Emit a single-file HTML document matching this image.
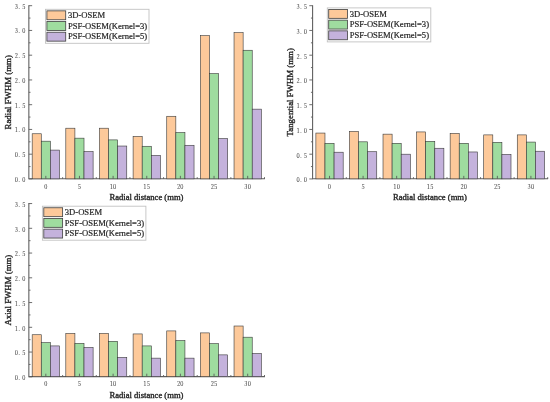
<!DOCTYPE html>
<html><head><meta charset="utf-8"><title>FWHM charts</title>
<style>
html,body{margin:0;padding:0;background:#fff}
body{width:550px;height:402px;overflow:hidden}
svg{display:block}
.tk text{font-family:"Noto Serif CJK SC","Liberation Serif",serif;font-size:6.8px;fill:#3c3c3c;stroke:#3c3c3c;stroke-width:0.06px}
text.lb{font-family:"Liberation Serif",serif;font-size:8.6px;fill:#262626;stroke:#262626;stroke-width:0.2px}
text.yt{font-size:8.8px;stroke-width:0.36px}
text.xt{stroke-width:0.36px}
</style></head><body>
<svg width="550" height="402" viewBox="0 0 550 402">
<rect width="550" height="402" fill="#fff"/>
<path d="M28.85 5.20V178.75H264.90" fill="none" stroke="#5e5e5e" stroke-width="1.08" stroke-linejoin="miter"/>
<rect x="32.17" y="133.76" width="9.10" height="45.09" fill="#fdc99a" stroke="#383838" stroke-width="0.6"/>
<rect x="41.27" y="141.18" width="9.10" height="37.67" fill="#9fdc9f" stroke="#383838" stroke-width="0.6"/>
<rect x="50.37" y="150.09" width="9.10" height="28.76" fill="#c4b2dc" stroke="#383838" stroke-width="0.6"/>
<rect x="65.81" y="128.21" width="9.10" height="50.64" fill="#fdc99a" stroke="#383838" stroke-width="0.6"/>
<rect x="74.91" y="138.16" width="9.10" height="40.69" fill="#9fdc9f" stroke="#383838" stroke-width="0.6"/>
<rect x="84.01" y="151.63" width="9.10" height="27.22" fill="#c4b2dc" stroke="#383838" stroke-width="0.6"/>
<rect x="99.46" y="128.21" width="9.10" height="50.64" fill="#fdc99a" stroke="#383838" stroke-width="0.6"/>
<rect x="108.56" y="139.89" width="9.10" height="38.96" fill="#9fdc9f" stroke="#383838" stroke-width="0.6"/>
<rect x="117.66" y="146.03" width="9.10" height="32.82" fill="#c4b2dc" stroke="#383838" stroke-width="0.6"/>
<rect x="133.10" y="136.38" width="9.10" height="42.47" fill="#fdc99a" stroke="#383838" stroke-width="0.6"/>
<rect x="142.20" y="146.28" width="9.10" height="32.57" fill="#9fdc9f" stroke="#383838" stroke-width="0.6"/>
<rect x="151.30" y="155.44" width="9.10" height="23.41" fill="#c4b2dc" stroke="#383838" stroke-width="0.6"/>
<rect x="166.74" y="116.28" width="9.10" height="62.57" fill="#fdc99a" stroke="#383838" stroke-width="0.6"/>
<rect x="175.84" y="132.57" width="9.10" height="46.28" fill="#9fdc9f" stroke="#383838" stroke-width="0.6"/>
<rect x="184.94" y="145.29" width="9.10" height="33.56" fill="#c4b2dc" stroke="#383838" stroke-width="0.6"/>
<rect x="200.39" y="35.65" width="9.10" height="143.20" fill="#fdc99a" stroke="#383838" stroke-width="0.6"/>
<rect x="209.49" y="73.61" width="9.10" height="105.24" fill="#9fdc9f" stroke="#383838" stroke-width="0.6"/>
<rect x="218.59" y="138.56" width="9.10" height="40.29" fill="#c4b2dc" stroke="#383838" stroke-width="0.6"/>
<rect x="234.03" y="32.68" width="9.10" height="146.17" fill="#fdc99a" stroke="#383838" stroke-width="0.6"/>
<rect x="243.13" y="50.25" width="9.10" height="128.60" fill="#9fdc9f" stroke="#383838" stroke-width="0.6"/>
<rect x="252.23" y="109.15" width="9.10" height="69.70" fill="#c4b2dc" stroke="#383838" stroke-width="0.6"/>
<path d="M28.85 178.95h3.30M28.85 166.57h1.65M28.85 154.20h3.30M28.85 141.82h1.65M28.85 129.45h3.30M28.85 117.07h1.65M28.85 104.70h3.30M28.85 92.32h1.65M28.85 79.95h3.30M28.85 67.57h1.65M28.85 55.20h3.30M28.85 42.82h1.65M28.85 30.45h3.30M28.85 18.07h1.65M28.85 5.70h3.30M45.82 178.95v-3.1M62.64 178.95v-1.8M79.46 178.95v-3.1M96.29 178.95v-1.8M113.11 178.95v-3.1M129.93 178.95v-1.8M146.75 178.95v-3.1M163.57 178.95v-1.8M180.39 178.95v-3.1M197.21 178.95v-1.8M214.04 178.95v-3.1M230.86 178.95v-1.8M247.68 178.95v-3.1M264.50 178.95v-1.8" fill="none" stroke="#5e5e5e" stroke-width="0.9"/>
<g class="tk" text-anchor="middle">
<text transform="translate(0 181.85) scale(0.84 1)" x="19.46 22.92 28.27">0.0</text>
<text transform="translate(0 157.10) scale(0.84 1)" x="19.46 22.92 28.27">0.5</text>
<text transform="translate(0 132.35) scale(0.84 1)" x="19.46 22.92 28.27">1.0</text>
<text transform="translate(0 107.60) scale(0.84 1)" x="19.46 22.92 28.27">1.5</text>
<text transform="translate(0 82.85) scale(0.84 1)" x="19.46 22.92 28.27">2.0</text>
<text transform="translate(0 58.10) scale(0.84 1)" x="19.46 22.92 28.27">2.5</text>
<text transform="translate(0 33.35) scale(0.84 1)" x="19.46 22.92 28.27">3.0</text>
<text transform="translate(0 8.60) scale(0.84 1)" x="19.46 22.92 28.27">3.5</text>
<text transform="translate(0 188.55) scale(0.84 1)" x="54.43">0</text>
<text transform="translate(0 188.55) scale(0.84 1)" x="94.48">5</text>
<text transform="translate(0 188.55) scale(0.84 1)" x="132.54 136.53">10</text>
<text transform="translate(0 188.55) scale(0.84 1)" x="172.59 176.58">15</text>
<text transform="translate(0 188.55) scale(0.84 1)" x="212.64 216.63">20</text>
<text transform="translate(0 188.55) scale(0.84 1)" x="252.69 256.68">25</text>
<text transform="translate(0 188.55) scale(0.84 1)" x="292.74 296.73">30</text>
</g>
<text class="lb xt" text-anchor="middle" x="146.45" y="199.80">Radial distance (mm)</text>
<text class="lb yt" text-anchor="middle" transform="translate(11.15 92.32) rotate(-90)">Radial FWHM (mm)</text>
<rect x="45.50" y="9.30" width="103.50" height="34.00" fill="#fff" stroke="#c2c2c2" stroke-width="0.9"/>
<rect x="46.90" y="10.85" width="18.8" height="8.9" fill="#fdc99a" stroke="#484848" stroke-width="0.85"/>
<text class="lb" x="67.90" y="18.20">3D-OSEM</text>
<rect x="46.90" y="21.55" width="18.8" height="8.9" fill="#9fdc9f" stroke="#484848" stroke-width="0.85"/>
<text class="lb" x="67.90" y="28.70">PSF-OSEM(Kernel=3)</text>
<rect x="46.90" y="32.25" width="18.8" height="8.9" fill="#c4b2dc" stroke="#484848" stroke-width="0.85"/>
<text class="lb" x="67.90" y="39.20">PSF-OSEM(Kernel=5)</text>
<path d="M312.60 5.20V178.75H548.10" fill="none" stroke="#5e5e5e" stroke-width="1.08" stroke-linejoin="miter"/>
<rect x="315.88" y="133.06" width="9.10" height="45.79" fill="#fdc99a" stroke="#383838" stroke-width="0.6"/>
<rect x="324.98" y="143.31" width="9.10" height="35.54" fill="#9fdc9f" stroke="#383838" stroke-width="0.6"/>
<rect x="334.08" y="152.22" width="9.10" height="26.63" fill="#c4b2dc" stroke="#383838" stroke-width="0.6"/>
<rect x="349.45" y="131.43" width="9.10" height="47.42" fill="#fdc99a" stroke="#383838" stroke-width="0.6"/>
<rect x="358.55" y="141.82" width="9.10" height="37.02" fill="#9fdc9f" stroke="#383838" stroke-width="0.6"/>
<rect x="367.65" y="151.72" width="9.10" height="27.12" fill="#c4b2dc" stroke="#383838" stroke-width="0.6"/>
<rect x="383.01" y="134.15" width="9.10" height="44.70" fill="#fdc99a" stroke="#383838" stroke-width="0.6"/>
<rect x="392.11" y="143.31" width="9.10" height="35.54" fill="#9fdc9f" stroke="#383838" stroke-width="0.6"/>
<rect x="401.21" y="154.20" width="9.10" height="24.65" fill="#c4b2dc" stroke="#383838" stroke-width="0.6"/>
<rect x="416.58" y="131.93" width="9.10" height="46.92" fill="#fdc99a" stroke="#383838" stroke-width="0.6"/>
<rect x="425.68" y="141.33" width="9.10" height="37.52" fill="#9fdc9f" stroke="#383838" stroke-width="0.6"/>
<rect x="434.78" y="148.26" width="9.10" height="30.59" fill="#c4b2dc" stroke="#383838" stroke-width="0.6"/>
<rect x="450.14" y="133.41" width="9.10" height="45.44" fill="#fdc99a" stroke="#383838" stroke-width="0.6"/>
<rect x="459.24" y="143.31" width="9.10" height="35.54" fill="#9fdc9f" stroke="#383838" stroke-width="0.6"/>
<rect x="468.34" y="151.97" width="9.10" height="26.88" fill="#c4b2dc" stroke="#383838" stroke-width="0.6"/>
<rect x="483.70" y="134.89" width="9.10" height="43.95" fill="#fdc99a" stroke="#383838" stroke-width="0.6"/>
<rect x="492.80" y="142.32" width="9.10" height="36.53" fill="#9fdc9f" stroke="#383838" stroke-width="0.6"/>
<rect x="501.90" y="154.45" width="9.10" height="24.40" fill="#c4b2dc" stroke="#383838" stroke-width="0.6"/>
<rect x="517.27" y="134.89" width="9.10" height="43.95" fill="#fdc99a" stroke="#383838" stroke-width="0.6"/>
<rect x="526.37" y="142.07" width="9.10" height="36.78" fill="#9fdc9f" stroke="#383838" stroke-width="0.6"/>
<rect x="535.47" y="151.23" width="9.10" height="27.62" fill="#c4b2dc" stroke="#383838" stroke-width="0.6"/>
<path d="M312.60 178.95h-3.30M312.60 166.57h-1.65M312.60 154.20h-3.30M312.60 141.82h-1.65M312.60 129.45h-3.30M312.60 117.07h-1.65M312.60 104.70h-3.30M312.60 92.32h-1.65M312.60 79.95h-3.30M312.60 67.57h-1.65M312.60 55.20h-3.30M312.60 42.82h-1.65M312.60 30.45h-3.30M312.60 18.07h-1.65M312.60 5.70h-3.30M329.53 178.95v-3.1M346.31 178.95v-1.8M363.10 178.95v-3.1M379.88 178.95v-1.8M396.66 178.95v-3.1M413.44 178.95v-1.8M430.23 178.95v-3.1M447.01 178.95v-1.8M463.79 178.95v-3.1M480.57 178.95v-1.8M497.35 178.95v-3.1M514.14 178.95v-1.8M530.92 178.95v-3.1M547.70 178.95v-1.8" fill="none" stroke="#5e5e5e" stroke-width="0.9"/>
<g class="tk" text-anchor="middle">
<text transform="translate(0 182.25) scale(0.84 1)" x="354.82 358.27 363.63">0.0</text>
<text transform="translate(0 157.50) scale(0.84 1)" x="354.82 358.27 363.63">0.5</text>
<text transform="translate(0 132.75) scale(0.84 1)" x="354.82 358.27 363.63">1.0</text>
<text transform="translate(0 108.00) scale(0.84 1)" x="354.82 358.27 363.63">1.5</text>
<text transform="translate(0 83.25) scale(0.84 1)" x="354.82 358.27 363.63">2.0</text>
<text transform="translate(0 58.50) scale(0.84 1)" x="354.82 358.27 363.63">2.5</text>
<text transform="translate(0 33.75) scale(0.84 1)" x="354.82 358.27 363.63">3.0</text>
<text transform="translate(0 9.00) scale(0.84 1)" x="354.82 358.27 363.63">3.5</text>
<text transform="translate(0 188.55) scale(0.84 1)" x="392.18">0</text>
<text transform="translate(0 188.55) scale(0.84 1)" x="432.14">5</text>
<text transform="translate(0 188.55) scale(0.84 1)" x="470.10 474.09">10</text>
<text transform="translate(0 188.55) scale(0.84 1)" x="510.06 514.05">15</text>
<text transform="translate(0 188.55) scale(0.84 1)" x="550.02 554.01">20</text>
<text transform="translate(0 188.55) scale(0.84 1)" x="589.97 593.96">25</text>
<text transform="translate(0 188.55) scale(0.84 1)" x="629.93 633.92">30</text>
</g>
<text class="lb xt" text-anchor="middle" x="429.93" y="199.80">Radial distance (mm)</text>
<text class="lb yt" text-anchor="middle" transform="translate(292.90 92.32) rotate(-90)">Tangential FWHM (mm)</text>
<rect x="327.30" y="7.90" width="103.50" height="34.00" fill="#fff" stroke="#c2c2c2" stroke-width="0.9"/>
<rect x="328.70" y="9.45" width="18.8" height="8.9" fill="#fdc99a" stroke="#484848" stroke-width="0.85"/>
<text class="lb" x="349.70" y="16.80">3D-OSEM</text>
<rect x="328.70" y="20.15" width="18.8" height="8.9" fill="#9fdc9f" stroke="#484848" stroke-width="0.85"/>
<text class="lb" x="349.70" y="27.30">PSF-OSEM(Kernel=3)</text>
<rect x="328.70" y="30.85" width="18.8" height="8.9" fill="#c4b2dc" stroke="#484848" stroke-width="0.85"/>
<text class="lb" x="349.70" y="37.80">PSF-OSEM(Kernel=5)</text>
<path d="M28.85 203.05V376.60H264.90" fill="none" stroke="#5e5e5e" stroke-width="1.08" stroke-linejoin="miter"/>
<rect x="32.17" y="334.73" width="9.10" height="41.97" fill="#fdc99a" stroke="#383838" stroke-width="0.6"/>
<rect x="41.27" y="342.64" width="9.10" height="34.05" fill="#9fdc9f" stroke="#383838" stroke-width="0.6"/>
<rect x="50.37" y="345.91" width="9.10" height="30.79" fill="#c4b2dc" stroke="#383838" stroke-width="0.6"/>
<rect x="65.81" y="333.44" width="9.10" height="43.26" fill="#fdc99a" stroke="#383838" stroke-width="0.6"/>
<rect x="74.91" y="343.34" width="9.10" height="33.36" fill="#9fdc9f" stroke="#383838" stroke-width="0.6"/>
<rect x="84.01" y="347.45" width="9.10" height="29.25" fill="#c4b2dc" stroke="#383838" stroke-width="0.6"/>
<rect x="99.46" y="333.44" width="9.10" height="43.26" fill="#fdc99a" stroke="#383838" stroke-width="0.6"/>
<rect x="108.56" y="341.31" width="9.10" height="35.39" fill="#9fdc9f" stroke="#383838" stroke-width="0.6"/>
<rect x="117.66" y="357.40" width="9.10" height="19.30" fill="#c4b2dc" stroke="#383838" stroke-width="0.6"/>
<rect x="133.10" y="333.93" width="9.10" height="42.77" fill="#fdc99a" stroke="#383838" stroke-width="0.6"/>
<rect x="142.20" y="345.91" width="9.10" height="30.79" fill="#9fdc9f" stroke="#383838" stroke-width="0.6"/>
<rect x="151.30" y="358.14" width="9.10" height="18.56" fill="#c4b2dc" stroke="#383838" stroke-width="0.6"/>
<rect x="166.74" y="330.91" width="9.10" height="45.79" fill="#fdc99a" stroke="#383838" stroke-width="0.6"/>
<rect x="175.84" y="340.57" width="9.10" height="36.13" fill="#9fdc9f" stroke="#383838" stroke-width="0.6"/>
<rect x="184.94" y="358.14" width="9.10" height="18.56" fill="#c4b2dc" stroke="#383838" stroke-width="0.6"/>
<rect x="200.39" y="332.89" width="9.10" height="43.81" fill="#fdc99a" stroke="#383838" stroke-width="0.6"/>
<rect x="209.49" y="343.63" width="9.10" height="33.06" fill="#9fdc9f" stroke="#383838" stroke-width="0.6"/>
<rect x="218.59" y="354.87" width="9.10" height="21.83" fill="#c4b2dc" stroke="#383838" stroke-width="0.6"/>
<rect x="234.03" y="326.01" width="9.10" height="50.69" fill="#fdc99a" stroke="#383838" stroke-width="0.6"/>
<rect x="243.13" y="337.20" width="9.10" height="39.50" fill="#9fdc9f" stroke="#383838" stroke-width="0.6"/>
<rect x="252.23" y="353.53" width="9.10" height="23.16" fill="#c4b2dc" stroke="#383838" stroke-width="0.6"/>
<path d="M28.85 376.80h3.30M28.85 364.43h1.65M28.85 352.05h3.30M28.85 339.68h1.65M28.85 327.30h3.30M28.85 314.93h1.65M28.85 302.55h3.30M28.85 290.18h1.65M28.85 277.80h3.30M28.85 265.43h1.65M28.85 253.05h3.30M28.85 240.68h1.65M28.85 228.30h3.30M28.85 215.93h1.65M28.85 203.55h3.30M45.82 376.80v-3.1M62.64 376.80v-1.8M79.46 376.80v-3.1M96.29 376.80v-1.8M113.11 376.80v-3.1M129.93 376.80v-1.8M146.75 376.80v-3.1M163.57 376.80v-1.8M180.39 376.80v-3.1M197.21 376.80v-1.8M214.04 376.80v-3.1M230.86 376.80v-1.8M247.68 376.80v-3.1M264.50 376.80v-1.8" fill="none" stroke="#5e5e5e" stroke-width="0.9"/>
<g class="tk" text-anchor="middle">
<text transform="translate(0 380.10) scale(0.84 1)" x="19.46 22.92 28.27">0.0</text>
<text transform="translate(0 355.35) scale(0.84 1)" x="19.46 22.92 28.27">0.5</text>
<text transform="translate(0 330.60) scale(0.84 1)" x="19.46 22.92 28.27">1.0</text>
<text transform="translate(0 305.85) scale(0.84 1)" x="19.46 22.92 28.27">1.5</text>
<text transform="translate(0 281.10) scale(0.84 1)" x="19.46 22.92 28.27">2.0</text>
<text transform="translate(0 256.35) scale(0.84 1)" x="19.46 22.92 28.27">2.5</text>
<text transform="translate(0 231.60) scale(0.84 1)" x="19.46 22.92 28.27">3.0</text>
<text transform="translate(0 206.85) scale(0.84 1)" x="19.46 22.92 28.27">3.5</text>
<text transform="translate(0 386.40) scale(0.84 1)" x="54.43">0</text>
<text transform="translate(0 386.40) scale(0.84 1)" x="94.48">5</text>
<text transform="translate(0 386.40) scale(0.84 1)" x="132.54 136.53">10</text>
<text transform="translate(0 386.40) scale(0.84 1)" x="172.59 176.58">15</text>
<text transform="translate(0 386.40) scale(0.84 1)" x="212.64 216.63">20</text>
<text transform="translate(0 386.40) scale(0.84 1)" x="252.69 256.68">25</text>
<text transform="translate(0 386.40) scale(0.84 1)" x="292.74 296.73">30</text>
</g>
<text class="lb xt" text-anchor="middle" x="146.45" y="397.65">Radial distance (mm)</text>
<text class="lb yt" text-anchor="middle" transform="translate(11.15 290.18) rotate(-90)">Axial FWHM (mm)</text>
<rect x="42.40" y="206.20" width="103.50" height="34.00" fill="#fff" stroke="#c2c2c2" stroke-width="0.9"/>
<rect x="43.80" y="207.75" width="18.8" height="8.9" fill="#fdc99a" stroke="#484848" stroke-width="0.85"/>
<text class="lb" x="64.80" y="215.10">3D-OSEM</text>
<rect x="43.80" y="218.45" width="18.8" height="8.9" fill="#9fdc9f" stroke="#484848" stroke-width="0.85"/>
<text class="lb" x="64.80" y="225.60">PSF-OSEM(Kernel=3)</text>
<rect x="43.80" y="229.15" width="18.8" height="8.9" fill="#c4b2dc" stroke="#484848" stroke-width="0.85"/>
<text class="lb" x="64.80" y="236.10">PSF-OSEM(Kernel=5)</text>
</svg>
</body></html>
